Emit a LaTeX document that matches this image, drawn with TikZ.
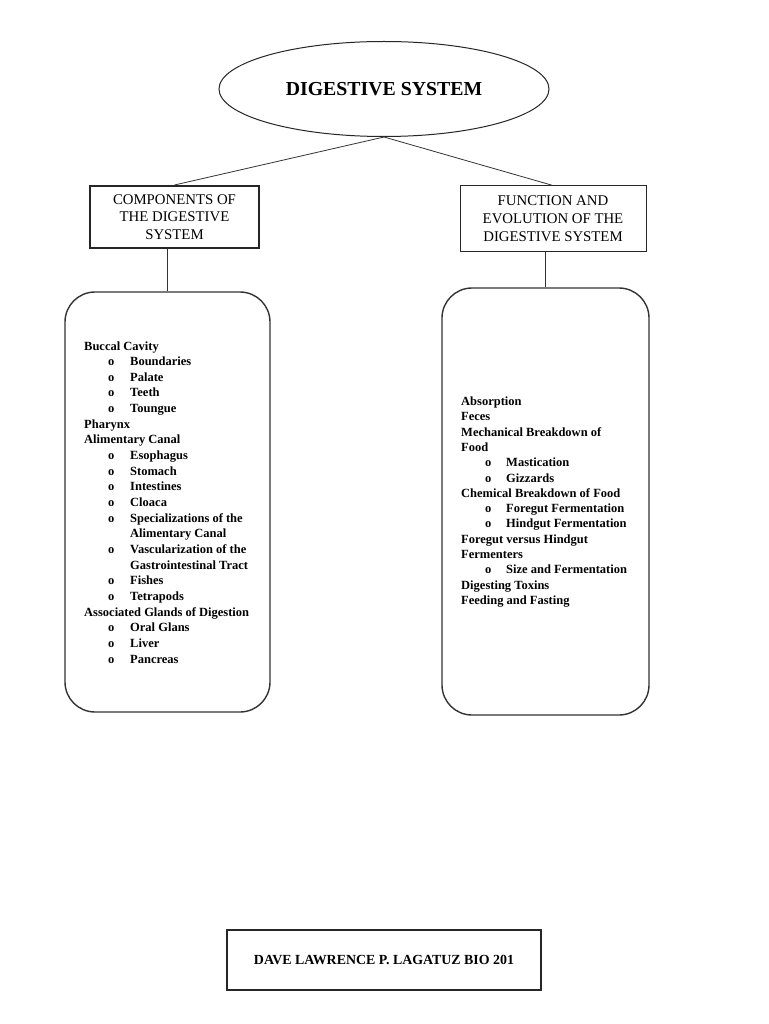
\documentclass[tikz,border=0pt]{standalone}
\usepackage{fontspec}
\setmainfont{Liberation Serif}
\usetikzlibrary{shapes.geometric}
\begin{document}
\begin{tikzpicture}[x=1pt,y=-1pt,
  item/.style={anchor=base west,inner sep=0pt,font=\bfseries\fontsize{12.5}{14}\selectfont},
  hdr/.style={draw=black!85,rectangle,align=center,inner sep=0pt},
  rbox/.style={draw=black!80,line width=1.4pt,rectangle,rounded corners=30pt,inner sep=0pt},
  link/.style={draw=black!80,line width=0.8pt}]
\useasboundingbox[fill=white] (0,0) rectangle (768,1024);
\node[draw=black!85,line width=1pt,ellipse,minimum width=330,minimum height=95,inner sep=0pt,
  font=\bfseries\fontsize{19.8}{22}\selectfont] (top) at (384,89) {DIGESTIVE SYSTEM};
\node[hdr,line width=2pt,minimum width=169,minimum height=62,
  font=\fontsize{14.8}{17.5}\selectfont] (comp) at (174.5,217) {COMPONENTS OF\\THE DIGESTIVE\\SYSTEM};
\node[hdr,line width=1pt,minimum width=186,minimum height=65,
  font=\fontsize{14.8}{18}\selectfont] (func) at (553,218.5) {FUNCTION AND\\EVOLUTION OF THE\\DIGESTIVE SYSTEM};
\node[rbox,minimum width=205,minimum height=420] (lbox) at (167.5,502) {};
\node[rbox,minimum width=207,minimum height=427] (rbx) at (545.5,501.5) {};
\node[draw=black!85,line width=1.5pt,rectangle,minimum width=314,minimum height=60,inner sep=0pt,
  font=\bfseries\fontsize{13.9}{16}\selectfont] (name) at (384,960) {DAVE LAWRENCE P. LAGATUZ BIO 201};
\draw[link] (top.south) -- (comp.north);
\draw[link] (top.south) -- (func.north);
\draw[link] (lbox.north) -- (lbox.north |- comp.south);
\draw[link] (rbx.north) -- (rbx.north |- func.south);
\foreach [count=\i] \lvl/\txt in {0/Buccal Cavity,1/Boundaries,1/Palate,1/Teeth,1/Toungue,
  0/Pharynx,0/Alimentary Canal,1/Esophagus,1/Stomach,1/Intestines,1/Cloaca,
  1/Specializations of the,2/Alimentary Canal,1/Vascularization of the,2/Gastrointestinal Tract,
  1/Fishes,1/Tetrapods,0/Associated Glands of Digestion,1/Oral Glans,1/Liver,1/Pancreas}{
  \pgfmathsetmacro\yy{350+(\i-1)*15.65}
  \ifcase\lvl
    \node[item] (L\i) at (84,\yy) {\txt};
  \or
    \node[item] (Lb\i) at (108,\yy) {o};
    \node[item] (L\i) at (130,\yy) {\txt};
  \or
    \node[item] (L\i) at (130,\yy) {\txt};
  \fi
}
\foreach [count=\i] \lvl/\txt in {0/Absorption,0/Feces,0/Mechanical Breakdown of,0/Food,
  1/Mastication,1/Gizzards,0/Chemical Breakdown of Food,1/Foregut Fermentation,
  1/Hindgut Fermentation,0/Foregut versus Hindgut,0/Fermenters,1/Size and Fermentation,
  0/Digesting Toxins,0/Feeding and Fasting}{
  \pgfmathsetmacro\yy{405.5+(\i-1)*15.3}
  \ifcase\lvl
    \node[item] (R\i) at (461,\yy) {\txt};
  \or
    \node[item] (Rb\i) at (485,\yy) {o};
    \node[item] (R\i) at (506,\yy) {\txt};
  \fi
}
\end{tikzpicture}
\end{document}
